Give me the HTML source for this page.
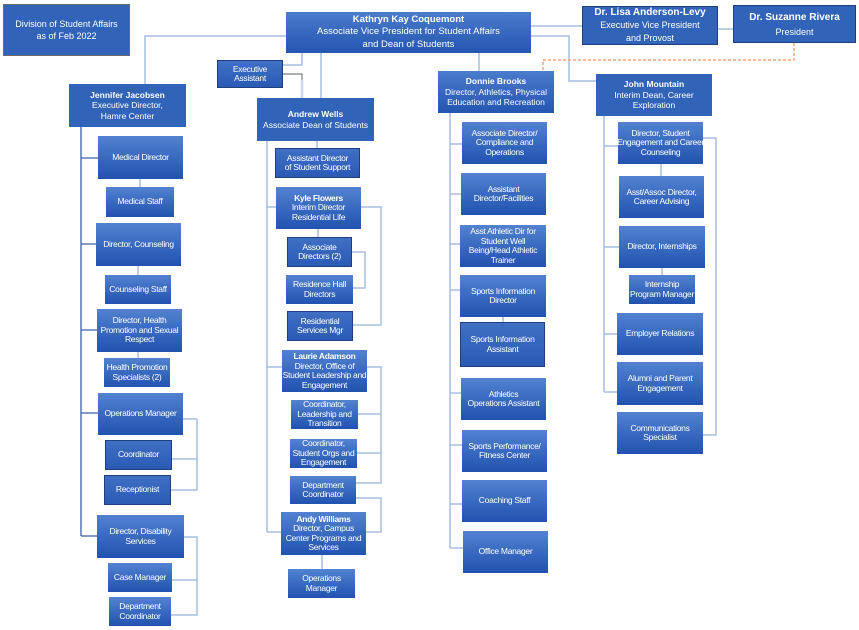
<!DOCTYPE html>
<html><head><meta charset="utf-8"><style>
body{margin:0;width:859px;height:630px;background:#fff;position:relative;overflow:hidden;font-family:"Liberation Sans Narrow","Liberation Sans",sans-serif;}
.b{position:absolute;box-sizing:border-box;display:flex;align-items:center;justify-content:center;text-align:center;color:#fff;font-size:8.5px;line-height:9.5px;letter-spacing:-0.3px;white-space:nowrap;background:linear-gradient(#5282d0,#2152b0);}
.h{background:#3163b9;font-family:"Liberation Sans",sans-serif;font-size:8.5px;line-height:10.5px;letter-spacing:0}
.d{border:1.5px solid #1e3f80;background:linear-gradient(#4070c4,#2a5ab4);}
b{font-weight:bold}
svg{position:absolute;left:0;top:0}
</style></head><body>
<svg width="859" height="630" fill="none">
<g stroke="#a9bde2" stroke-width="1.5">
<path d="M531 26H582M718 29H733"/>
<path d="M531 36H569V81H596"/>
<path d="M479 53V71"/>
<path d="M286 36H145V84"/>
<path d="M302 46V65H283"/>
<path d="M321 48V98"/>
<path d="M302 80V98" stroke-width="2.5" stroke="#c9d6ee"/>
<path d="M317 141V148M267 141V532M267 207H276M267 367H282M267 532H281"/>
<path d="M318 229V237M361 207H381V325H353M352 252H365V288H353"/>
<path d="M367 367H381V483H356M358 414H381M357 453H381M356 498H381V532H366M322 555V569"/>
<path d="M450 113V548M450 144H462M450 194H461M450 244H460M450 290H460M450 393H461M450 445H462M450 504H462M450 548H463M503 317V322"/>
<path d="M604 116V392M604 146H618M604 247H619M604 334H617M604 392H617M703 138H716V435H703M661 164V176M662 268V275"/>
<path d="M197 419H183M197 419V490H171M172 459H197M184 537H197V615H171M172 580H197"/>
<path d="M140 179V187M138 266V275M138 352V358"/>
</g>
<path d="M81 127V536M81 158H98M81 244H96M81 330H97M81 413H98M81 536H97" stroke="#3a5fa8" stroke-width="1.3"/>
<path d="M283 74H302V80" stroke="#7a8088" stroke-width="1.2"/>
<path d="M794 43V60H543V71" stroke="#f4a47c" stroke-width="1.5" stroke-dasharray="3,2"/>
</svg>

<div class="b h" style="left:3px;top:4px;width:127px;height:52px;border:1.5px solid #6a6a6a;font-size:9px;line-height:12px">Division of Student Affairs<br>as of Feb 2022</div>
<div class="b h" style="left:286px;top:12px;width:245px;height:41px;font-size:9.5px;line-height:12.5px;background:linear-gradient(#4b7bcb,#2456b2)"><div><b>Kathryn Kay Coquemont</b><br>Associate Vice President for Student Affairs<br>and Dean of Students</div></div>
<div class="b h" style="left:582px;top:6px;width:136px;height:39px;border:1.5px solid #1e3f80;font-size:9px;line-height:13px"><div><b style="font-size:10px">Dr. Lisa Anderson-Levy</b><br>Executive Vice President<br>and Provost</div></div>
<div class="b h" style="left:733px;top:5px;width:123px;height:38px;border:1.5px solid #1e3f80;font-size:9px;line-height:14px"><div><b style="font-size:10px">Dr. Suzanne Rivera</b><br>President</div></div>
<div class="b d" style="left:217px;top:60px;width:66px;height:28px">Executive<br>Assistant</div>
<div class="b h" style="left:69px;top:84px;width:117px;height:43px"><div><b>Jennifer Jacobsen</b><br>Executive Director,<br>Hamre Center</div></div>
<div class="b h" style="left:257px;top:98px;width:117px;height:43px"><div><b>Andrew Wells</b><br>Associate Dean of Students</div></div>
<div class="b h" style="left:438px;top:71px;width:116px;height:42px;background:linear-gradient(#4b7bcb,#2456b2)"><div><b>Donnie Brooks</b><br>Director, Athletics, Physical<br>Education and Recreation</div></div>
<div class="b h" style="left:596px;top:74px;width:116px;height:42px"><div><b>John Mountain</b><br>Interim Dean, Career<br>Exploration</div></div>

<div class="b" style="left:98px;top:136px;width:85px;height:43px">Medical Director</div>
<div class="b" style="left:106px;top:187px;width:68px;height:30px">Medical Staff</div>
<div class="b" style="left:96px;top:223px;width:85px;height:43px">Director, Counseling</div>
<div class="b" style="left:105px;top:275px;width:66px;height:29px">Counseling Staff</div>
<div class="b" style="left:97px;top:309px;width:85px;height:43px">Director, Health<br>Promotion and Sexual<br>Respect</div>
<div class="b" style="left:104px;top:358px;width:66px;height:29px">Health Promotion<br>Specialists (2)</div>
<div class="b" style="left:98px;top:393px;width:85px;height:42px">Operations Manager</div>
<div class="b d" style="left:105px;top:440px;width:67px;height:30px">Coordinator</div>
<div class="b d" style="left:104px;top:475px;width:67px;height:30px">Receptionist</div>
<div class="b" style="left:97px;top:515px;width:87px;height:43px">Director, Disability<br>Services</div>
<div class="b" style="left:108px;top:563px;width:64px;height:29px">Case Manager</div>
<div class="b" style="left:109px;top:597px;width:62px;height:29px">Department<br>Coordinator</div>

<div class="b d" style="left:275px;top:148px;width:85px;height:30px">Assistant Director<br>of Student Support</div>
<div class="b" style="left:276px;top:187px;width:85px;height:42px"><div><b>Kyle Flowers</b><br>Interim Director<br>Residential Life</div></div>
<div class="b d" style="left:287px;top:237px;width:65px;height:30px">Associate<br>Directors (2)</div>
<div class="b" style="left:286px;top:275px;width:67px;height:29px">Residence Hall<br>Directors</div>
<div class="b d" style="left:287px;top:311px;width:66px;height:30px">Residential<br>Services Mgr</div>
<div class="b" style="left:282px;top:350px;width:85px;height:42px"><div><b>Laurie Adamson</b><br>Director, Office of<br>Student Leadership and<br>Engagement</div></div>
<div class="b" style="left:291px;top:400px;width:67px;height:29px">Coordinator,<br>Leadership and<br>Transition</div>
<div class="b" style="left:290px;top:439px;width:67px;height:29px">Coordinator,<br>Student Orgs and<br>Engagement</div>
<div class="b" style="left:290px;top:476px;width:66px;height:28px">Department<br>Coordinator</div>
<div class="b" style="left:281px;top:512px;width:85px;height:43px"><div><b>Andy Williams</b><br>Director, Campus<br>Center Programs and<br>Services</div></div>
<div class="b" style="left:288px;top:569px;width:67px;height:29px">Operations<br>Manager</div>

<div class="b" style="left:462px;top:122px;width:85px;height:42px">Associate Director/<br>Compliance and<br>Operations</div>
<div class="b" style="left:461px;top:173px;width:85px;height:42px">Assistant<br>Director/Facilities</div>
<div class="b" style="left:460px;top:225px;width:86px;height:42px">Asst Athletic Dir for<br>Student Well<br>Being/Head Athletic<br>Trainer</div>
<div class="b" style="left:460px;top:275px;width:86px;height:42px">Sports Information<br>Director</div>
<div class="b d" style="left:460px;top:322px;width:85px;height:45px">Sports Information<br>Assistant</div>
<div class="b" style="left:461px;top:378px;width:85px;height:42px">Athletics<br>Operations Assistant</div>
<div class="b" style="left:462px;top:430px;width:85px;height:42px">Sports Performance/<br>Fitness Center</div>
<div class="b" style="left:462px;top:480px;width:85px;height:42px">Coaching Staff</div>
<div class="b" style="left:463px;top:531px;width:85px;height:42px">Office Manager</div>

<div class="b" style="left:618px;top:122px;width:85px;height:42px">Director, Student<br>Engagement and Career<br>Counseling</div>
<div class="b" style="left:619px;top:176px;width:85px;height:42px">Asst/Assoc Director,<br>Career Advising</div>
<div class="b" style="left:619px;top:226px;width:86px;height:42px">Director, Internships</div>
<div class="b" style="left:629px;top:275px;width:66px;height:29px">Internship<br>Program Manager</div>
<div class="b" style="left:617px;top:313px;width:86px;height:42px">Employer Relations</div>
<div class="b" style="left:617px;top:362px;width:86px;height:43px">Alumni and Parent<br>Engagement</div>
<div class="b" style="left:617px;top:412px;width:86px;height:42px">Communications<br>Specialist</div>
</body></html>
